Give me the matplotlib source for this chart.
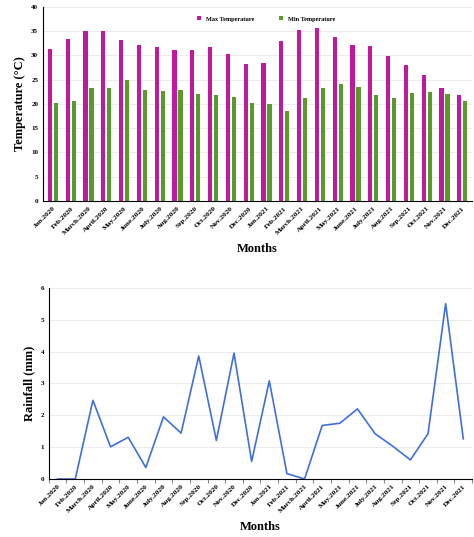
import matplotlib.pyplot as plt
import numpy as np

months = ['Jan.2020', 'Feb.2020', 'March.2020', 'April.2020', 'May.2020', 'June.2020',
          'July.2020', 'Aug.2020', 'Sep.2020', 'Oct.2020', 'Nov.2020', 'Dec.2020',
          'Jan.2021', 'Feb.2021', 'March.2021', 'April.2021', 'May.2021', 'June.2021',
          'July.2021', 'Aug.2021', 'Sep.2021', 'Oct.2021', 'Nov.2021', 'Dec.2021']
max_temp = [31.4, 33.3, 35.1, 35.1, 33.2, 32.2, 31.8, 31.1, 31.2, 31.7, 30.2, 28.3,
            28.4, 32.9, 35.3, 35.6, 33.9, 32.2, 31.9, 29.9, 28.1, 25.9, 23.3, 21.9]
min_temp = [20.2, 20.6, 23.3, 23.2, 25.0, 22.8, 22.6, 22.8, 22.1, 21.9, 21.5, 20.1,
            19.9, 18.6, 21.2, 23.3, 24.1, 23.5, 21.9, 21.2, 22.3, 22.5, 22.1, 20.5]
rainfall = [0, 0, 2.47, 1.01, 1.31, 0.36, 1.95, 1.44, 3.86, 1.21, 3.95, 0.55,
            3.08, 0.17, 0, 1.68, 1.75, 2.2, 1.42, 1.03, 0.6, 1.42, 5.5, 1.26]

plt.rcParams['font.family'] = ['Liberation Serif', 'DejaVu Serif']
plt.rcParams['font.weight'] = 'bold'

fig = plt.figure(figsize=(4.74, 5.37), dpi=100)
x = np.arange(len(months))

# 温度柱状图
ax1 = fig.add_axes([0.091, 0.626, 0.905, 0.361])
w = 0.24
ax1.bar(x - 0.17, max_temp, w, color='#c0199f', label='Max Temperature')
ax1.bar(x + 0.17, min_temp, w, color='#5a9a2a', label='Min Temperature')
ax1.set_ylim(0, 40)
ax1.set_yticks(range(0, 41, 5))
ax1.set_xlim(-0.55, len(months) - 0.45)
ax1.set_xticks(x)
ax1.set_xticklabels(months, rotation=45, ha='right', rotation_mode='anchor', fontsize=5.3)
ax1.tick_params(axis='y', labelsize=5, length=0)
ax1.tick_params(axis='x', length=0)
ax1.grid(axis='y', color='#e8e8e8', lw=0.6)
ax1.set_axisbelow(True)
for s in ['top', 'right']:
    ax1.spines[s].set_visible(False)
ax1.set_ylabel('Temperature (°C)', fontsize=9, fontweight='bold')
ax1.set_xlabel('Months', fontsize=9, fontweight='bold', labelpad=5)
ax1.legend(loc='upper center', ncol=2, fontsize=4.5, frameon=False,
           handlelength=0.6, handleheight=0.6, columnspacing=4, bbox_to_anchor=(0.52, 0.98))

# 降雨折线图
ax2 = fig.add_axes([0.103, 0.108, 0.893, 0.356])
ax2.plot(x, rainfall, color='#3f6fdc', lw=1.2)
ax2.set_ylim(0, 6)
ax2.set_xlim(-0.5, len(months) - 0.5)
ax2.set_xticks(np.arange(-0.5, len(months), 1), minor=False)
ax2.set_xticklabels([])
ax2.set_xticks(x, minor=True)
ax2.set_xticklabels(months, minor=True, rotation=45, ha='right', rotation_mode='anchor', fontsize=5.3)
ax2.tick_params(axis='x', which='major', length=3, color='#888888')
ax2.tick_params(axis='x', which='minor', length=0)
ax2.tick_params(axis='y', labelsize=5, length=0)
ax2.grid(axis='y', color='#e8e8e8', lw=0.6)
for s in ['top', 'right']:
    ax2.spines[s].set_visible(False)
ax2.set_ylabel('Rainfall (mm)', fontsize=9, fontweight='bold')
ax2.set_xlabel('Months', fontsize=9, fontweight='bold', labelpad=5)

fig.savefig('out.png', dpi=100)
